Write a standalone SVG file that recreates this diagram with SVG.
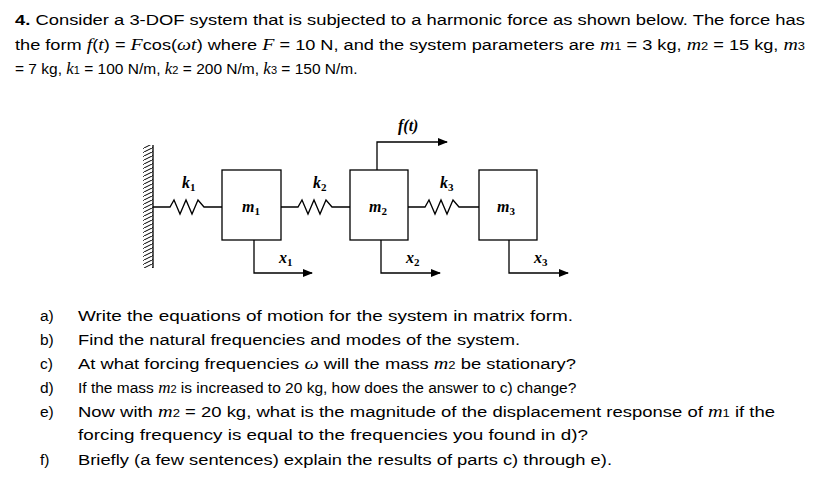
<svg xmlns="http://www.w3.org/2000/svg" width="818" height="497" viewBox="0 0 818 497">
<style>
.t{font-family:"Liberation Sans",Arial,sans-serif;font-size:15.5px;fill:#000}
.i{font-family:"Liberation Serif","Times New Roman",serif;font-style:italic;font-size:17px}
.s{font-size:11px}
.lb{font-family:"Liberation Serif","Times New Roman",serif;font-style:italic;font-weight:bold;font-size:16px}
.sub{font-size:11px;font-style:normal}
.ln{stroke:#000;stroke-width:1.3;fill:none}
</style>
<defs>
<marker id="ar" markerWidth="10" markerHeight="8" refX="9" refY="4" orient="auto" markerUnits="userSpaceOnUse"><path d="M0,0 L10,4 L0,8 Z" fill="#000"/></marker>
<pattern id="h" width="8" height="4" patternUnits="userSpaceOnUse"><path d="M0,4 L8,0" stroke="#000" stroke-width="1"/></pattern>
</defs>
<text class="t" x="15" y="25" textLength="790" lengthAdjust="spacingAndGlyphs"><tspan font-weight="bold">4.</tspan> Consider a 3-DOF system that is subjected to a harmonic force as shown below.  The force has</text>
<text class="t" x="15" y="50" textLength="790" lengthAdjust="spacingAndGlyphs">the form <tspan class="i">f</tspan>(<tspan class="i">t</tspan>) = <tspan class="i">F</tspan>cos(<tspan class="i">ωt</tspan>) where <tspan class="i">F</tspan> = 10 N, and the system parameters are <tspan class="i">m</tspan><tspan class="s">1</tspan> = 3 kg, <tspan class="i">m</tspan><tspan class="s">2</tspan> = 15 kg, <tspan class="i">m</tspan><tspan class="s">3</tspan></text>
<text class="t" x="15" y="74">= 7 kg, <tspan class="i">k</tspan><tspan class="s">1</tspan> = 100 N/m, <tspan class="i">k</tspan><tspan class="s">2</tspan> = 200 N/m, <tspan class="i">k</tspan><tspan class="s">3</tspan> = 150 N/m.</text>
<g id="wall"><rect x="143" y="145" width="10" height="123" fill="url(#h)"/><line class="ln" x1="153" y1="145" x2="153" y2="268"/></g>
<g id="connectors">
<polyline class="ln" points="153,207 170,207 174,200 180,214 186,200 192,214 198,200 204,207 222,207"/>
<polyline class="ln" points="281,207 298,207 302,200 308,214 314,200 320,214 326,200 332,207 350,207"/>
<polyline class="ln" points="408,207 425,207 429,200 435,214 441,200 447,214 453,200 459,207 479,207"/>
<polyline class="ln" points="377,170 377,142 447,142" marker-end="url(#ar)"/>
<polyline class="ln" points="254,240 254,273 312,273" marker-end="url(#ar)"/>
<polyline class="ln" points="381,240 381,273 440,273" marker-end="url(#ar)"/>
<polyline class="ln" points="509,240 509,273 568,273" marker-end="url(#ar)"/>
</g>
<g id="m1"><rect class="ln" x="222" y="170" width="59" height="70"/><text class="lb" x="242" y="212">m<tspan class="sub" dy="3">1</tspan></text></g>
<g id="m2"><rect class="ln" x="350" y="170" width="58" height="70"/><text class="lb" x="369" y="212">m<tspan class="sub" dy="3">2</tspan></text></g>
<g id="m3"><rect class="ln" x="479" y="170" width="58" height="70"/><text class="lb" x="497" y="212">m<tspan class="sub" dy="3">3</tspan></text></g>
<g id="labels">
<text class="lb" x="182" y="188">k<tspan class="sub" dy="3">1</tspan></text>
<text class="lb" x="313" y="188">k<tspan class="sub" dy="3">2</tspan></text>
<text class="lb" x="440" y="188">k<tspan class="sub" dy="3">3</tspan></text>
<text class="lb" x="398" y="131">f(t)</text>
<text class="lb" x="279" y="263">x<tspan class="sub" dy="3">1</tspan></text>
<text class="lb" x="406" y="263">x<tspan class="sub" dy="3">2</tspan></text>
<text class="lb" x="534" y="263">x<tspan class="sub" dy="3">3</tspan></text>
</g>
<g class="t">
<text x="40" y="321">a)</text><text x="78" y="321" textLength="495" lengthAdjust="spacingAndGlyphs">Write the equations of motion for the system in matrix form.</text>
<text x="40" y="345">b)</text><text x="78" y="345" textLength="442" lengthAdjust="spacingAndGlyphs">Find the natural frequencies and modes of the system.</text>
<text x="40" y="369">c)</text><text x="78" y="369" textLength="498" lengthAdjust="spacingAndGlyphs">At what forcing frequencies <tspan class="i">ω</tspan> will the mass <tspan class="i">m</tspan><tspan class="s">2</tspan> be stationary?</text>
<text x="40" y="393">d)</text><text x="78" y="393">If the mass <tspan class="i">m</tspan><tspan class="s">2</tspan> is increased to 20 kg, how does the answer to c) change?</text>
<text x="40" y="417">e)</text><text x="78" y="417" textLength="697" lengthAdjust="spacingAndGlyphs">Now with <tspan class="i">m</tspan><tspan class="s">2</tspan> = 20 kg, what is the magnitude of the displacement response of <tspan class="i">m</tspan><tspan class="s">1</tspan> if the</text>
<text x="78" y="440" textLength="510" lengthAdjust="spacingAndGlyphs">forcing frequency is equal to the frequencies you found in d)?</text>
<text x="40" y="465">f)</text><text x="78" y="465" textLength="534" lengthAdjust="spacingAndGlyphs">Briefly (a few sentences) explain the results of parts c) through e).</text>
</g>
</svg>
